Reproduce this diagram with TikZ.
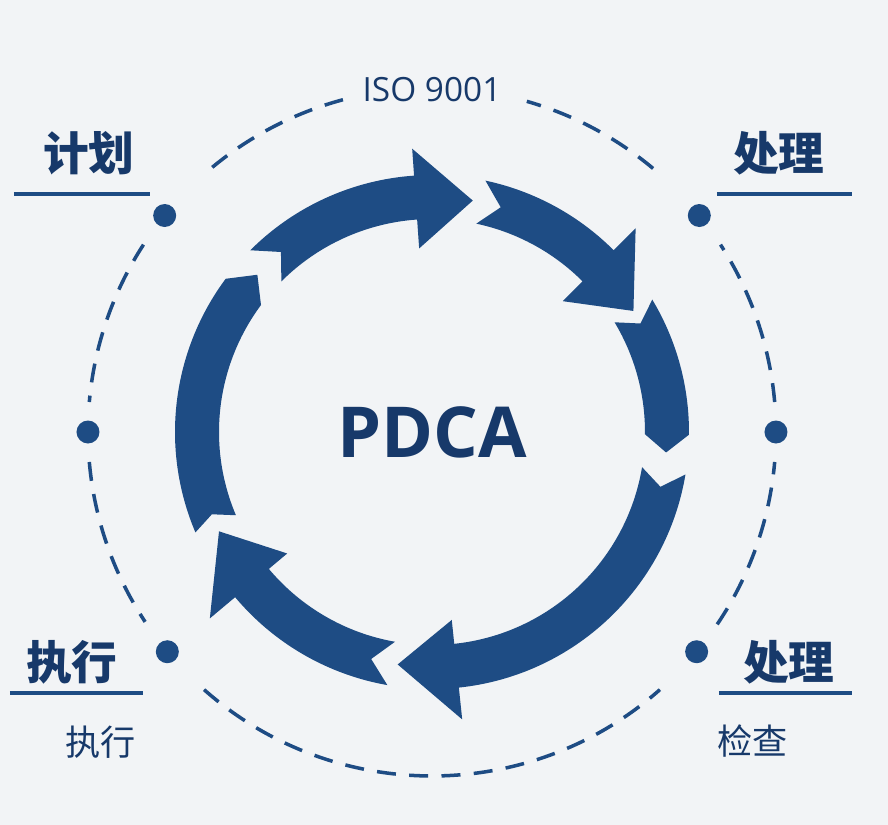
\documentclass[tikz,border=0pt]{standalone}
\usepackage{fontspec}
\setmainfont{Open Sans}
\newfontfamily\cjk{Noto Sans CJK SC}
\definecolor{pdcablue}{HTML}{1E4C84}
\definecolor{inkblue}{HTML}{17396A}
\definecolor{paper}{HTML}{F2F4F6}
\def\ro{2.57}
\def\ri{2.13}
\def\rmid{2.35}
\def\rd{3.44}
% tail, notch, head base, tip, head inner, head outer
\newcommand{\pdcaseg}[6]{%
 \fill[pdcablue] (#1:\ro) arc[start angle=#1,end angle=#3,radius=\ro]
   -- (#3:#6) -- (#4:\rmid) -- (#3:#5) -- (#3:\ri)
   arc[start angle=#3,end angle=#1,radius=\ri] -- (#2:\rmid) -- cycle;}
\begin{document}
\begin{tikzpicture}[
  dashring/.style={pdcablue,line width=1pt,dash pattern=on 5.4pt off 3.8pt},
  rule/.style={pdcablue,line width=1.1pt},
  bigword/.style={text=inkblue,font=\cjk\bfseries\fontsize{13}{15}\selectfont},
  smallword/.style={text=inkblue,font=\cjk\fontsize{10}{12}\selectfont},
  ringdot/.style={circle,fill=pdcablue,inner sep=0pt,minimum size=0.23cm}]
 \fill[paper] (-4.32,-3.93) rectangle (4.56,4.32);
 \useasboundingbox (-4.32,-3.93) rectangle (4.56,4.32);
 \foreach \a/\b in {105/130.5,147/175,185/213.5,228.5/311.5,326/355,5/33,50/74}
  \draw[dashring] (\a:\rd) arc[start angle=\a,end angle=\b,radius=\rd];
 \foreach \n/\a in {1/141,2/39,3/180,4/0,5/219.7,6/320.3}
  \node[ringdot] (dot\n) at (\a:\rd) {};
 \pdcaseg{135}{130}{94}{80}{1.84}{2.84}
 \pdcaseg{78}{73}{45}{31}{1.85}{2.88}
 \pdcaseg{31}{27.5}{-0.6}{-5}{\ri}{\ro}
 \pdcaseg{-9.5}{-13.5}{-84}{-98.4}{1.89}{2.89}
 \pdcaseg{-100}{-105}{-140}{-155}{1.89}{2.9}
 \pdcaseg{203}{200.5}{143.4}{138}{\ri}{\ro}
 \node[text=inkblue,font=\bfseries\fontsize{20}{24}\selectfont] (pdca) at (0,0) {PDCA};
 \node[text=inkblue,font=\fontsize{9.5}{11}\selectfont] (iso) at (0,3.42) {ISO 9001};
 \node[bigword] (plan) at (-3.43,2.79) {计划};
 \node[bigword] (act) at (3.47,2.79) {处理};
 \node[bigword] (do) at (-3.60,-2.30) {执行};
 \node[bigword] (act2) at (3.57,-2.30) {处理};
 \node[smallword] (dosub) at (-3.31,-3.10) {执行};
 \node[smallword] (checksub) at (3.21,-3.09) {检查};
 \coordinate (planl) at (-4.18,2.38);
 \coordinate (planr) at (-2.82,2.38);
 \coordinate (actl) at (2.85,2.38);
 \coordinate (actr) at (4.20,2.38);
 \coordinate (dol) at (-4.22,-2.61);
 \coordinate (dor) at (-2.89,-2.61);
 \coordinate (act2l) at (2.87,-2.61);
 \coordinate (act2r) at (4.20,-2.61);
 \draw[rule] (planl) -- (planr);
 \draw[rule] (actl) -- (actr);
 \draw[rule] (dol) -- (dor);
 \draw[rule] (act2l) -- (act2r);
\end{tikzpicture}
\end{document}
